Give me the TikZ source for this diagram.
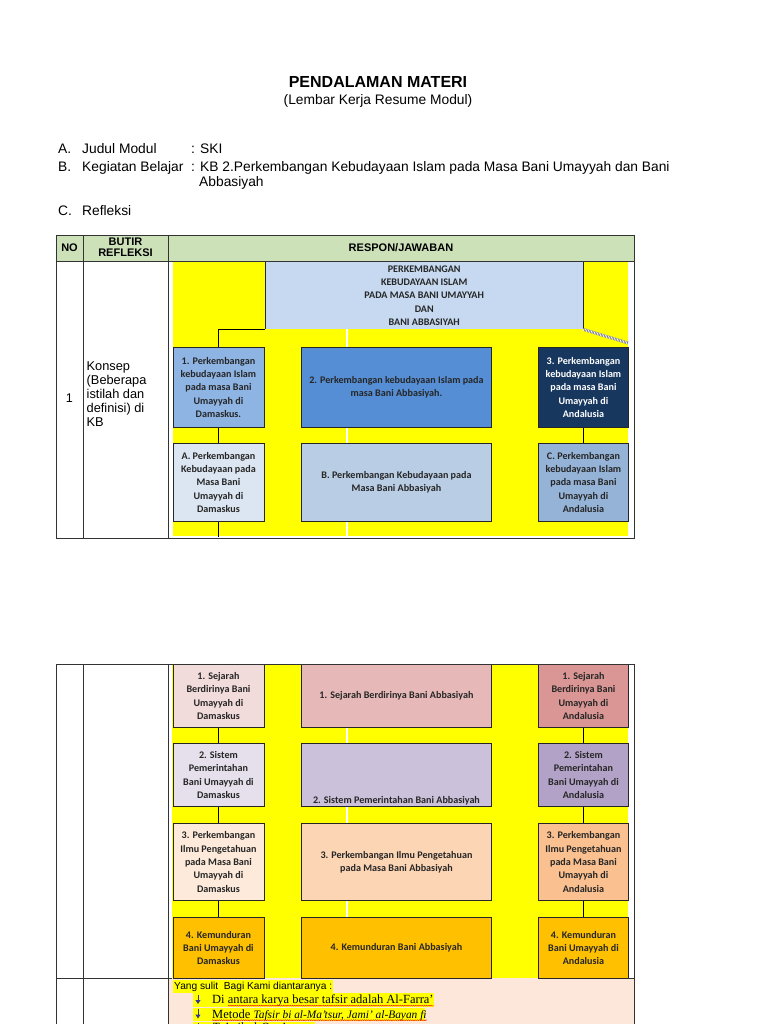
\documentclass[tikz,border=0pt]{standalone}
\usepackage{fontspec}
\setmainfont{Liberation Sans}
\newfontfamily\calfont{Carlito}
\newfontfamily\serfont{Liberation Serif}
\usetikzlibrary{decorations.pathmorphing,arrows.meta}
\newcommand\mybody{\fontsize{13.8}{16}\selectfont}
\newcommand\mybox{\calfont\bfseries\fontsize{10.1}{13.3}\selectfont}
\newcommand\myhdr{\bfseries\fontsize{11}{11.5}\selectfont}
\definecolor{hdrgreen}{HTML}{CDE1B9}
\definecolor{yel}{HTML}{FFFF00}
\definecolor{topbl}{HTML}{C6D9F1}
\definecolor{bluA}{HTML}{8EB4E3}
\definecolor{bluB}{HTML}{558ED5}
\definecolor{bluC}{HTML}{17375E}
\definecolor{bluD}{HTML}{DCE6F2}
\definecolor{bluE}{HTML}{B9CDE5}
\definecolor{bluF}{HTML}{95B3D7}
\definecolor{redA}{HTML}{F2DCDB}
\definecolor{redB}{HTML}{E6B9B8}
\definecolor{redC}{HTML}{D99694}
\definecolor{purA}{HTML}{E6E0EC}
\definecolor{purB}{HTML}{CCC1DA}
\definecolor{purC}{HTML}{B3A2C7}
\definecolor{orA}{HTML}{FDEADA}
\definecolor{orB}{HTML}{FCD5B5}
\definecolor{orC}{HTML}{FAC090}
\definecolor{gold}{HTML}{FFC000}
\definecolor{peach}{HTML}{FDE6DA}
\definecolor{bulc}{HTML}{34349A}
\definecolor{boxtext}{HTML}{262626}
\tikzset{
  tline/.style={draw=black!80, line width=0.9pt},
  bx/.style={draw=black!85, line width=0.9pt, inner sep=0pt, align=center, anchor=north west, font=\mybox, text=boxtext},
  conn/.style={line width=1.8pt, black},
  dconn/.style={double=white, double distance=1.5pt, line width=0.7pt, black},
  txt/.style={inner sep=0pt, anchor=base west, font=\mybody},
  wavy/.style={red, line width=0.4pt, decorate, decoration={snake, amplitude=0.5pt, segment length=2.2pt}},
  bul/.style={bulc, line width=1pt, -{Triangle[width=5pt,length=4pt]}}
}
\begin{document}
\begin{tikzpicture}[x=1pt,y=-1pt]
\useasboundingbox (0,0) rectangle (768,1024);
\clip (0,0) rectangle (768,1024);
\fill[white] (0,0) rectangle (768,1024);

% ---------- heading ----------
\node[inner sep=0pt, anchor=base, font=\bfseries\fontsize{16}{19}\selectfont] (title) at (378,87.5) {PENDALAMAN MATERI};
\node[inner sep=0pt, anchor=base, font=\mybody] (sub) at (378,104.5) {(Lembar Kerja Resume Modul)};
\node[txt] (la) at (58,153.5) {A.};
\node[txt] (lat) at (82,153.5) {Judul Modul};
\node[txt] (lav) at (191,153.5) {: SKI};
\node[txt] (lb) at (58,172) {B.};
\node[txt] (lbt) at (82,172) {Kegiatan Belajar};
\node[txt] (lbv) at (191,172) {: KB 2.Perkembangan Kebudayaan Islam pada Masa Bani Umayyah dan Bani};
\node[txt] (lbv2) at (199,186.5) {Abbasiyah};
\node[txt] (lc) at (58,215) {C.};
\node[txt] (lct) at (82,215) {Refleksi};

% ---------- table 1 ----------
\fill[hdrgreen] (56,235) rectangle (634,261);
\fill[yel] (172.5,261) rectangle (628,536);
\node[fill=topbl, minimum width=318pt, minimum height=67pt, anchor=north west, inner sep=0pt, align=center, font=\mybox, text=boxtext] (tb) at (265,262)
  {PERKEMBANGAN\\KEBUDAYAAN ISLAM\\PADA MASA BANI UMAYYAH\\DAN\\BANI ABBASIYAH};
\draw[line width=0.9pt, black!85] (tb.north west) -- (tb.south west);
\draw[line width=0.9pt, black!85] (tb.north east) -- (tb.south east);

\node[bx, fill=bluA, minimum width=91pt, minimum height=80pt] (b1) at (172.5,347)
  {1. Perkembangan\\kebudayaan Islam\\pada masa Bani\\Umayyah di\\Damaskus.};
\node[bx, fill=bluB, minimum width=190pt, minimum height=80pt] (b2) at (301,347)
  {2. Perkembangan kebudayaan Islam pada\\masa Bani Abbasiyah.};
\node[bx, fill=bluC, minimum width=90pt, minimum height=80pt, text=white] (b3) at (538,347)
  {3. Perkembangan\\kebudayaan Islam\\pada masa Bani\\Umayyah di\\Andalusia};
\node[bx, fill=bluD, minimum width=91pt, minimum height=78pt] (bA) at (172.5,443)
  {A. Perkembangan\\Kebudayaan pada\\Masa Bani\\Umayyah di\\Damaskus};
\node[bx, fill=bluE, minimum width=190pt, minimum height=78pt] (bB) at (301,443)
  {B. Perkembangan Kebudayaan pada\\Masa Bani Abbasiyah};
\node[bx, fill=bluF, minimum width=90pt, minimum height=78pt] (bC) at (538,443)
  {C. Perkembangan\\kebudayaan Islam\\pada masa Bani\\Umayyah di\\Andalusia};

\coordinate (t1bot) at (0,537);
\coordinate (hc) at (628,343);
\draw[conn] (tb.south west) -- (tb.south west -| b1.north) -- (b1.north);
\draw[dconn] ([xshift=46pt]b2.north west) -- ([xshift=46pt]b2.north west |- tb.south);
\draw[line width=2.8pt, black!60] (tb.south east) -- (hc);
\draw[line width=2.8pt, white, dash pattern=on 0.7pt off 0.9pt] (tb.south east) -- (hc);
\draw[conn] (b1.south) -- (bA.north);
\draw[dconn] ([xshift=46pt]b2.south west) -- ([xshift=46pt]bB.north west);
\draw[conn] (b3.south) -- (bC.north);
\draw[conn] (bA.south) -- (bA.south |- t1bot);
\draw[dconn] ([xshift=46pt]bB.south west) -- ([xshift=46pt]bB.south west |- t1bot);

\draw[tline] (56,235) rectangle (634,538);
\draw[tline] (56,261) -- (634,261);
\draw[tline] (83,235) -- (83,538);
\draw[tline] (168,235) -- (168,538);

\node[inner sep=0pt, font=\myhdr] (hno) at (69.5,247.5) {NO};
\node[inner sep=0pt, font=\myhdr, align=center] (hbut) at (125.5,247.5) {BUTIR\\REFLEKSI};
\node[inner sep=0pt, font=\myhdr] (hres) at (401,247.5) {RESPON/JAWABAN};
\node[inner sep=0pt, font=\fontsize{12.6}{14}\selectfont] (no1) at (69.5,398) {1};
\node[inner sep=0pt, anchor=west, align=left, font=\fontsize{12.8}{14.2}\selectfont] (kons) at (86.5,394)
  {Konsep\\(Beberapa\\istilah dan\\definisi) di\\KB};

% ---------- table 2 ----------
\fill[yel] (172,664) rectangle (628,978);
\fill[peach] (168,978) rectangle (634,1024);

\node[bx, fill=redA, minimum width=91pt, minimum height=63pt] (s1L) at (172.5,664)
  {1. Sejarah\\Berdirinya Bani\\Umayyah di\\Damaskus};
\node[bx, fill=redB, minimum width=190pt, minimum height=63pt] (s1M) at (301,664)
  {1. Sejarah Berdirinya Bani Abbasiyah};
\node[bx, fill=redC, minimum width=90pt, minimum height=63pt] (s1R) at (538,664)
  {1. Sejarah\\Berdirinya Bani\\Umayyah di\\Andalusia};

\node[bx, fill=purA, minimum width=91pt, minimum height=63pt] (s2L) at (172.5,743)
  {2. Sistem\\Pemerintahan\\Bani Umayyah di\\Damaskus};
\node[bx, fill=purB, minimum width=190pt, minimum height=63pt] (s2M) at (301,743) {};
\node[inner sep=0pt, anchor=base, font=\mybox, text=boxtext] (s2Mt) at ([yshift=3.8pt]s2M.south)
  {2. Sistem Pemerintahan Bani Abbasiyah};
\node[bx, fill=purC, minimum width=90pt, minimum height=63pt] (s2R) at (538,743)
  {2. Sistem\\Pemerintahan\\Bani Umayyah di\\Andalusia};

\node[bx, fill=orA, minimum width=91pt, minimum height=77pt] (s3L) at (172.5,823)
  {3. Perkembangan\\Ilmu Pengetahuan\\pada Masa Bani\\Umayyah di\\Damaskus};
\node[bx, fill=orB, minimum width=190pt, minimum height=77pt] (s3M) at (301,823)
  {3. Perkembangan Ilmu Pengetahuan\\pada Masa Bani Abbasiyah};
\node[bx, fill=orC, minimum width=90pt, minimum height=77pt] (s3R) at (538,823)
  {3. Perkembangan\\Ilmu Pengetahuan\\pada Masa Bani\\Umayyah di\\Andalusia};

\node[bx, fill=gold, minimum width=91pt, minimum height=61pt] (s4L) at (172.5,917)
  {4. Kemunduran\\Bani Umayyah di\\Damaskus};
\node[bx, fill=gold, minimum width=190pt, minimum height=61pt] (s4M) at (301,917)
  {4. Kemunduran Bani Abbasiyah};
\node[bx, fill=gold, minimum width=90pt, minimum height=61pt] (s4R) at (538,917)
  {4. Kemunduran\\Bani Umayyah di\\Andalusia};

\foreach \a/\b in {s1/s2, s2/s3, s3/s4} {
  \draw[conn] (\a L.south) -- (\b L.north);
  \draw[dconn] ([xshift=46pt]\a M.south west) -- ([xshift=46pt]\b M.north west);
  \draw[conn] (\a R.south) -- (\b R.north);
}

\draw[tline] (56,1024) -- (56,664) -- (634,664) -- (634,1024);
\draw[tline] (83,664) -- (83,1024);
\draw[tline] (168,664) -- (168,1024);
\draw[tline] (56,978) -- (172,978);
\draw[tline] (628,978) -- (634,978);

% ---------- bottom text ----------
\fill[yel] (173,979.5) rectangle (333,993);
\node[inner sep=0pt, anchor=base west, font=\fontsize{10.2}{12}\selectfont] (q0) at (174,989.5) {Yang sulit~ Bagi Kami diantaranya :};
\fill[yel] (193,993) rectangle (434,1007);
\fill[yel] (193,1007.5) rectangle (425,1021);
\fill[yel] (193,1021.5) rectangle (315,1035);
\coordinate (a1t) at (198,994.5);
\coordinate (a1b) at (198,1004);
\coordinate (a2t) at (198,1009);
\coordinate (a2b) at (198,1018.5);
\coordinate (a3t) at (198,1023);
\coordinate (a3b) at (198,1032.5);
\draw[bul] (a1t) -- (a1b);
\draw[bul] (a2t) -- (a2b);
\draw[bul] (a3t) -- (a3b);
\node[inner sep=0pt, anchor=base west, font=\serfont\fontsize{12.5}{14}\selectfont] (q1) at (212,1003.5) {Di antara karya besar tafsir adalah Al-Farra’};
\node[inner sep=0pt, anchor=base west, font=\serfont\fontsize{12.5}{14}\selectfont] (q2) at (212,1018) {Metode {\fontsize{11.4}{14}\selectfont\itshape Tafsir bi al-Ma’tsur, Jami’ al-Bayan fi}};
\node[inner sep=0pt, anchor=base west, font=\serfont\fontsize{12.5}{14}\selectfont] (q3) at (212,1031.5) {\textit{Ta’wil al-Qur’an}};
\draw[wavy] ([xshift=16pt,yshift=-2.2pt]q1.base west) -- ([yshift=-2.2pt]q1.base east);
\draw[wavy] ([yshift=-2.2pt]q2.base west) -- ([yshift=-2.2pt]q2.base east);
\end{tikzpicture}
\end{document}
